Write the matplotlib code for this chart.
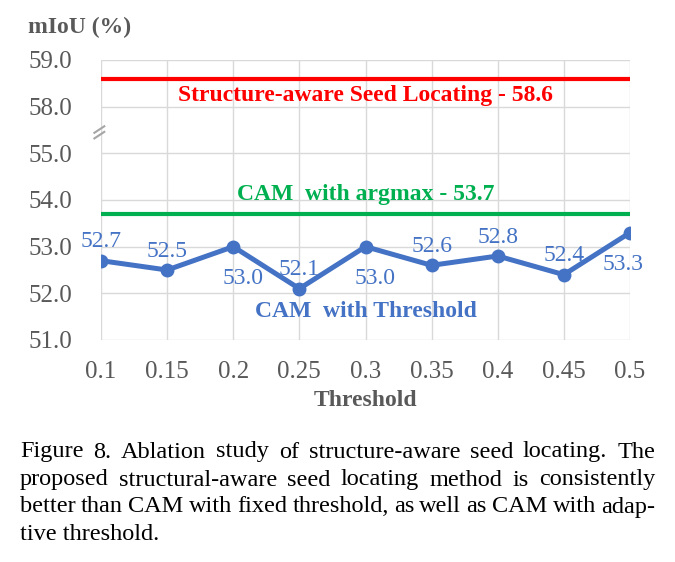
import matplotlib
matplotlib.use("Agg")
import matplotlib.pyplot as plt

thresholds = ["0.1", "0.15", "0.2", "0.25", "0.3", "0.35", "0.4", "0.45", "0.5"]
miou = [52.7, 52.5, 53.0, 52.1, 53.0, 52.6, 52.8, 52.4, 53.3]
label_above = [True, True, False, True, False, True, True, True, False]
seed_locating = 58.6
cam_argmax = 53.7
ytick_values = [51, 52, 53, 54, 55, 58, 59]

caption_lines = [
    "Figure 8.  Ablation study of structure-aware seed locating.  The",
    "proposed structural-aware seed locating method is consistently",
    "better than CAM with fixed threshold, as well as CAM with adap-",
    "tive threshold.",
]

BLUE = "#4472C4"
RED = "#FF0000"
GREEN = "#00B050"
GRAY = "#595959"

plt.rcParams["font.family"] = ["Liberation Serif", "DejaVu Serif"]


def to_axis(v):
    # broken y axis: 55 -> 58 squeezed into one step
    return v - 51 if v <= 55 else v - 53


fig = plt.figure(figsize=(6.75, 5.62), dpi=100)
ax = fig.add_axes([101 / 675, 1 - 340 / 562, 529 / 675, 280 / 562])

xs = list(range(len(thresholds)))
ys = [to_axis(v) for v in miou]

ax.axhline(to_axis(seed_locating), color=RED, lw=3, zorder=3)
ax.axhline(to_axis(cam_argmax), color=GREEN, lw=3, zorder=3)
ax.plot(xs, ys, color=BLUE, lw=3.6, marker="o", ms=9, zorder=4)

for x, y, v, up in zip(xs, ys, miou, label_above):
    if up:
        off = (0, 6)
    else:
        # below labels sit a little to the right, the last one pulled inside
        off = (-5 if x == xs[-1] else 7, -15)
    ax.annotate(f"{v:.1f}", (x, y), xytext=off,
                textcoords="offset points", ha="center",
                va="bottom" if up else "top", color=BLUE, fontsize=17)

ax.text(4, to_axis(seed_locating) - 0.14, "Structure-aware Seed Locating - 58.6",
        color=RED, fontsize=17, fontweight="bold", ha="center", va="top")
ax.text(4, to_axis(cam_argmax) + 0.19, "CAM  with argmax - 53.7",
        color=GREEN, fontsize=17, fontweight="bold", ha="center", va="bottom")
ax.text(4, to_axis(51.61), "CAM  with Threshold",
        color=BLUE, fontsize=17, fontweight="bold", ha="center", va="center")

ax.set_xlim(0, len(thresholds) - 1)
ax.set_ylim(0, to_axis(59))
ax.set_xticks(xs)
ax.set_xticklabels(thresholds)
ax.set_yticks([to_axis(v) for v in ytick_values])
ax.set_yticklabels([f"{v:.1f}" for v in ytick_values])
ax.tick_params(length=0, labelsize=18, labelcolor=GRAY, pad=21)
ax.tick_params(axis="x", pad=15)
ax.grid(True, color="#D9D9D9", lw=1)
ax.set_axisbelow(True)
for s in ax.spines.values():
    s.set_visible(False)

ax.set_xlabel("Threshold", fontsize=17, fontweight="bold", color=GRAY, labelpad=5)
fig.text(28 / 675, 1 - 27 / 562, "mIoU (%)", fontsize=17, fontweight="bold",
         color=GRAY, ha="left", va="center")

# axis break mark
for dy in (-0.06, 0.06):
    ax.plot([-0.1, 0.05], [4.45 + dy - 0.07, 4.45 + dy + 0.07], color="#A6A6A6",
            lw=1.5, clip_on=False, zorder=5)

# justified caption
renderer = fig.canvas.get_renderer()
left, right = 20 / 675, 655 / 675
line_y = [452, 480, 507, 535]
for i, (line, py) in enumerate(zip(caption_lines, line_y)):
    y = 1 - py / 562
    if i == len(caption_lines) - 1:
        fig.text(left, y, line, fontsize=17.5, ha="left", va="center")
        continue
    words = line.split()
    texts = [fig.text(0, y, w, fontsize=17.5, ha="left", va="center") for w in words]
    widths = [t.get_window_extent(renderer).width / fig.bbox.width for t in texts]
    gap = (right - left - sum(widths)) / (len(words) - 1)
    x = left
    for t, w in zip(texts, widths):
        t.set_x(x)
        x += w + gap

fig.savefig("out.png", dpi=100)
